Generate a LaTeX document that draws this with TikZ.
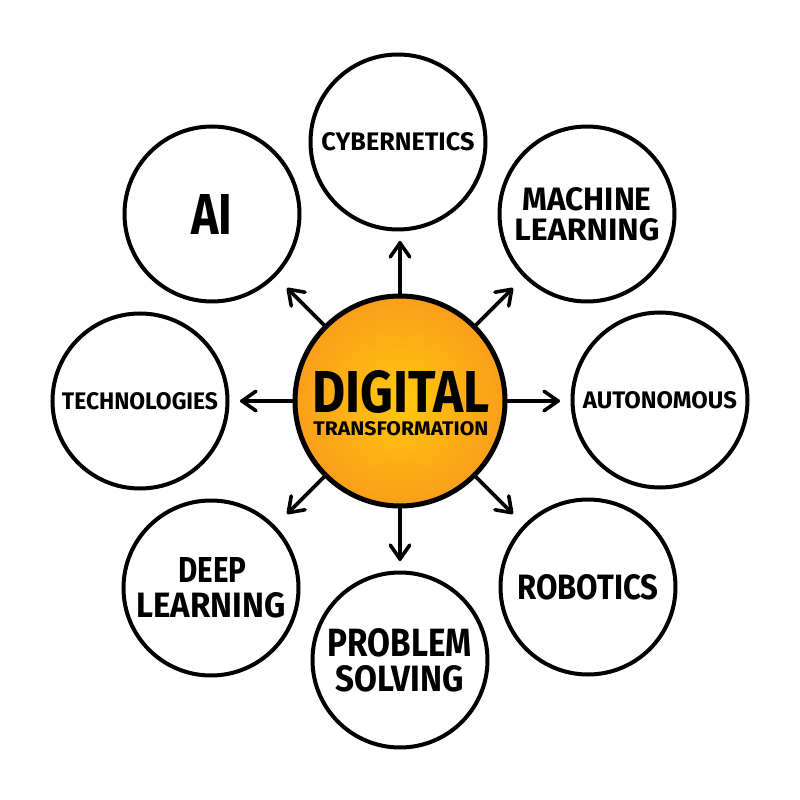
\documentclass[tikz,border=0pt]{standalone}
\usepackage{fontspec}
\setmainfont{Fira Sans}
\usepackage{graphicx}
\usetikzlibrary{calc}
\newcommand{\fitline}[3]{\resizebox{#1pt}{#2pt}{#3}}
\definecolor{orgin}{HTML}{FFC80E}
\definecolor{orgout}{HTML}{FA9E1A}
\begin{document}
\begin{tikzpicture}[x=1pt,y=1pt,
  sat/.style={circle,draw=black,line width=4pt,fill=white,minimum size=175pt,inner sep=0pt,
     align=center,font=\fontsize{10}{30}\selectfont\bfseries},
  hub/.style={circle,draw=black,line width=5pt,minimum size=210pt,inner sep=0pt,
     inner color=orgin,outer color=orgout,align=center,font=\fontsize{10}{20}\selectfont\bfseries},
  arr/.style={line width=3.6pt,line cap=round,line join=round}]
\useasboundingbox[fill=white] (-400,-400) rectangle (400,400);
\node[hub] (c) at (0,-1) {};
\node[align=center,font=\fontsize{10}{23}\selectfont\bfseries] (ct) at (1,-3.5)
  {\fitline{177}{42}{DIGITAL}\\\fitline{175}{14}{TRANSFORMATION}};
\node[sat] (cyb) at (-2,258) {\fitline{153}{18}{CYBERNETICS}};
\node[sat] (ml) at (187,186) {\fitline{129}{23}{MACHINE}\\\fitline{145}{22}{LEARNING}};
\node[sat] (aut) at (260,0) {\fitline{154}{17}{AUTONOMOUS}};
\node[sat] (rob) at (188,-187) {\fitline{141}{25}{ROBOTICS}};
\node[sat,font=\fontsize{10}{35}\selectfont\bfseries] (ps) at (0,-260) {\fitline{144}{28}{PROBLEM}\\\fitline{128}{26}{SOLVING}};
\node[sat,font=\fontsize{10}{35}\selectfont\bfseries] (dl) at (-189,-188) {\hspace*{3pt}\fitline{68}{25}{DEEP}\\\fitline{149}{25}{LEARNING}};
\node[sat] (tec) at (-260,-1) {\fitline{156}{17}{TECHNOLOGIES}};
\node[sat] (ai) at (-188,186) {\fitline{41}{40}{AI}};
\foreach \a/\n in {90/n,45/ne,0/e,-45/se,-90/s,-135/sw,180/w,135/nw}{
  \path (c.center) ++(\a:158) coordinate (t\n);
  \draw[arr] (c.\a) -- (t\n);
  \draw[arr] ($(t\n)+(\a+145:17)$) -- (t\n) -- ($(t\n)+(\a-145:17)$);
}
\end{tikzpicture}
\end{document}
